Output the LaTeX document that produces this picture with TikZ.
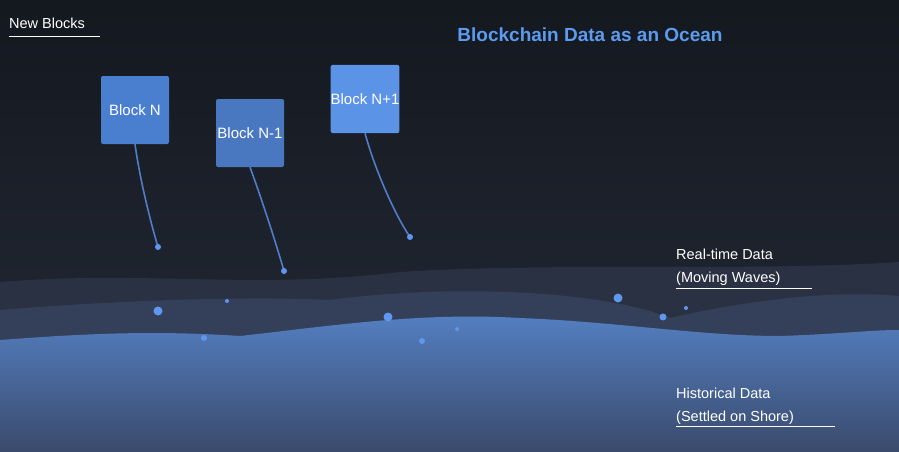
\documentclass[tikz,border=0pt]{standalone}
\usepackage{fontspec}
\setmainfont{Liberation Sans}
\begin{document}
\begin{tikzpicture}[x=1pt,y=-1pt,
  blk/.style={rounded corners=2pt,minimum width=68pt,minimum height=68pt,inner sep=0pt,text=white,font=\fontsize{15}{18}\selectfont},
  lbl/.style={anchor=base west,text=white,inner sep=0pt,font=\fontsize{14.5}{18}\selectfont},
  tether/.style={draw=blue!40!gray!90!white,line width=1.6pt,color={rgb,255:red,80;green,125;blue,200}},
  dot/.style={fill={rgb,255:red,95;green,150;blue,240}}]
\definecolor{bgtop}{RGB}{20,24,31}
\definecolor{bgbot}{RGB}{36,43,56}
\definecolor{waveA}{RGB}{42,49,66}
\definecolor{waveB}{RGB}{52,64,90}
\definecolor{seaTop}{RGB}{84,128,194}
\definecolor{seaBot}{RGB}{58,74,108}
\definecolor{titlec}{RGB}{92,155,240}
\useasboundingbox (0,0) rectangle (899,452);
\shade[top color=bgtop,bottom color=bgbot] (0,0) rectangle (899,452);
\fill[waveA] (0,282) .. controls (150,270) and (250,290) .. (400,272) .. controls (550,262) and (750,272) .. (899,262) -- (899,452) -- (0,452) -- cycle;
\fill[waveB] (0,310) .. controls (120,300) and (250,296) .. (330,300) .. controls (450,284) and (600,290) .. (670,318) .. controls (750,300) and (830,290) .. (899,296) -- (899,452) -- (0,452) -- cycle;
\shade[top color=seaTop,bottom color=seaBot] (0,340) .. controls (80,334) and (150,330) .. (240,336) .. controls (330,326) and (420,312) .. (520,318) .. controls (620,322) and (700,336) .. (780,336) .. controls (840,334) and (870,330) .. (899,330) -- (899,452) -- (0,452) -- cycle;
\foreach \x/\y/\r in {158/311/4.5,227/301/2,204/338/3,388/317/4.5,422/341/3,457/329/2,618/298/4.5,663/317/3.5,686/308/2}
  \fill[dot] (\x,\y) circle (\r);
\node[blk,fill={rgb,255:red,74;green,127;blue,208}] (bn) at (135,110) {Block N};
\node[blk,fill={rgb,255:red,74;green,120;blue,192}] (bn1) at (250,133) {Block N-1};
\node[blk,fill={rgb,255:red,91;green,147;blue,230}] (bnp) at (365,99) {Block N+1};
\coordinate (an) at (158,247);
\coordinate (an1) at (284,271);
\coordinate (anp) at (410,237);
\draw[tether] (bn.south) .. controls (140,180) and (150,220) .. (an);
\draw[tether] (bn1.south) .. controls (262,200) and (275,240) .. (an1);
\draw[tether] (bnp.south) .. controls (375,170) and (395,215) .. (anp);
\foreach \c in {an,an1,anp} \fill[dot] (\c) circle (3);
\node[lbl] (nb) at (9,29) {New Blocks};
\draw[white] (9,36) -- (100,36);
\node[text=titlec,font=\bfseries\fontsize{19}{22}\selectfont] (title) at (590,35) {Blockchain Data as an Ocean};
\node[lbl] (rt1) at (676,259) {Real-time Data};
\node[lbl] (rt2) at (676,282) {(Moving Waves)};
\draw[white] (676,288) -- (812,288);
\node[lbl] (hd1) at (676,398) {Historical Data};
\node[lbl] (hd2) at (676,421) {(Settled on Shore)};
\draw[white] (676,426) -- (835,426);
\end{tikzpicture}
\end{document}
